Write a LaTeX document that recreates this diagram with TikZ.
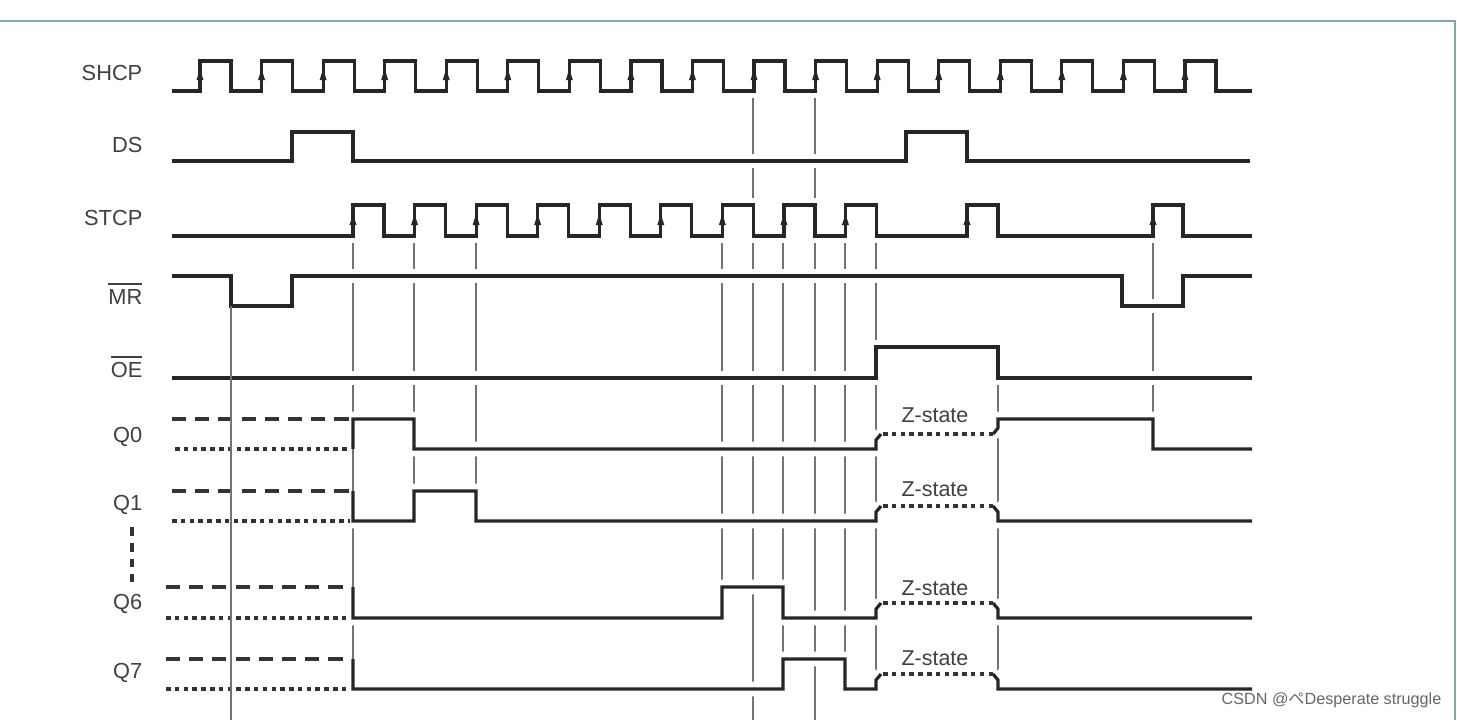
\documentclass[tikz,border=0pt]{standalone}
\usepackage{fontspec}
\setmainfont{Liberation Sans}
\newfontfamily\cjkfont{Noto Sans CJK JP}
\begin{document}
\begin{tikzpicture}[x=0.01cm,y=-0.01cm,
  wave/.style={line width=0.9pt,black!85,preaction={draw=white,line width=4.2pt}},
  guide/.style={line width=0.3pt,black!55},
  dsh/.style={line width=0.9pt,black!80,dash pattern=on 4pt off 2.6pt},
  dot/.style={line width=0.9pt,black!80,dash pattern=on 1.3pt off 1.2pt},
  lbl/.style={anchor=east,text=black!75,font=\fontsize{6.2}{7}\selectfont,inner sep=0pt},
  zl/.style={text=black!75,font=\fontsize{6.1}{7}\selectfont,inner sep=0pt},
  tip/.style={fill=black!85}]
\useasboundingbox (0,0) rectangle (1457,720);
\draw[line width=0.6pt,color={rgb,255:red,130;green,165;blue,165}] (0,21) -- (1455,21) -- (1455,720);
% guide lines
\foreach \gx/\ga/\gb in {353/236/689,414/236/491,476/236/521,722/236/618,753/98/720,783/236/659,815/98/720,845/236/689,876/236/689,998/378/689,1153/236/449}
  \draw[guide] (\gx,\ga) -- (\gx,\gb);
% SHCP
\draw[wave] (172,91) \foreach \k in {0,...,16}{ -- ({200+61.56*\k},91) -- ++(0,-30) -- ++(31,0) -- ++(0,30)} -- (1252,91);
\foreach \k in {0,...,16} \fill[tip] ({200+61.56*\k},69) -- ++(-3.5,11) -- ++(7,0) -- cycle;
% DS
\draw[wave] (172,161) -- (292,161) -- (292,132) -- (353,132) -- (353,161) -- (906,161) -- (906,132) -- (967,132) -- (967,161) -- (1250,161);
% STCP
\draw[wave] (172,236) \foreach \k in {0,...,8}{ -- ({353+61.56*\k},236) -- ++(0,-31) -- ++(31,0) -- ++(0,31)} -- (967,236) -- (967,205) -- (998,205) -- (998,236) -- (1153,236) -- (1153,205) -- (1183,205) -- (1183,236) -- (1252,236);
\foreach \gx in {0,...,8} \fill[tip] ({353+61.56*\gx},214) -- ++(-3.5,11) -- ++(7,0) -- cycle;
\foreach \gx in {967,1153} \fill[tip] (\gx,214) -- ++(-3.5,11) -- ++(7,0) -- cycle;
% MR
\draw[wave] (172,276) -- (231,276) -- (231,306) -- (292,306) -- (292,276) -- (1122,276) -- (1122,306) -- (1183,306) -- (1183,276) -- (1252,276);
% OE
\draw[wave] (172,378) -- (876,378) -- (876,347) -- (998,347) -- (998,378) -- (1252,378);
% Q0
\draw[wave] (353,449) -- (353,419) -- (414,419) -- (414,449) -- (876,449) -- (876,440) -- (881,434);
\draw[wave] (993,434) -- (998,428) -- (998,419) -- (1153,419) -- (1153,449) -- (1252,449);
% Q1
\draw[wave] (353,491) -- (353,521) -- (414,521) -- (414,491) -- (476,491) -- (476,521) -- (876,521) -- (876,512) -- (881,506);
\draw[wave] (993,506) -- (998,512) -- (998,521) -- (1252,521);
% Q6
\draw[wave] (353,587) -- (353,618) -- (722,618) -- (722,587) -- (783,587) -- (783,618) -- (876,618) -- (876,609) -- (881,603);
\draw[wave] (993,603) -- (998,609) -- (998,618) -- (1252,618);
% Q7
\draw[wave] (353,659) -- (353,689) -- (783,689) -- (783,659) -- (845,659) -- (845,689) -- (876,689) -- (876,680) -- (881,674);
\draw[wave] (993,674) -- (998,680) -- (998,689) -- (1252,689);
% Z dotted
\foreach \zy in {434,506,603,674} \draw[dot] (883,\zy) -- (993,\zy);
% initial unknown
\draw[dsh] (172,419) -- (350,419); \draw[dot] (175,449) -- (350,449);
\draw[dsh] (172,491) -- (350,491); \draw[dot] (172,521) -- (350,521);
\draw[dsh] (166,587) -- (350,587); \draw[dot] (166,618) -- (350,618);
\draw[dsh] (166,659) -- (350,659); \draw[dot] (166,689) -- (350,689);
\draw[dsh,dash pattern=on 2.5pt off 2pt] (132,527) -- (132,582);
\draw[guide] (231,306) -- (231,720);
% labels
\node[lbl] (lshcp) at (143,73) {SHCP};
\node[lbl] (lds) at (143,145) {DS};
\node[lbl] (lstcp) at (143,218) {STCP};
\node[lbl] (lmr) at (143,293) {$\overline{\mbox{MR}}$};
\node[lbl] (loe) at (143,366) {$\overline{\mbox{OE}}$};
\node[lbl] (lq0) at (143,437) {Q0};
\node[lbl] (lq1) at (143,505) {Q1};
\node[lbl] (lq6) at (143,604) {Q6};
\node[lbl] (lq7) at (143,673) {Q7};
\foreach \zy/\nm in {415/za,489/zb,588/zc,658/zd} \node[zl] (\nm) at (935,\zy) {Z-state};
\node[anchor=east,text=black!60,font=\fontsize{4.6}{5}\selectfont,inner sep=0pt] (wm) at (1442,700) {CSDN @{\cjkfont ぺ}Desperate struggle};
\end{tikzpicture}
\end{document}
